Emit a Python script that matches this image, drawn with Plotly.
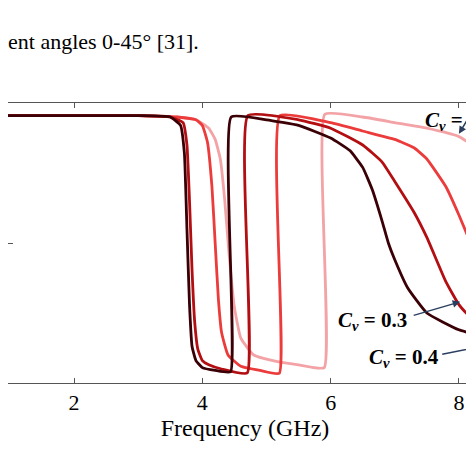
import plotly.graph_objects as go

cv0_x = [0.9, 3.0, 3.6, 3.9, 4.1, 4.2, 4.28, 4.35, 4.42, 4.5, 4.6, 4.8, 5.1, 5.5, 5.9, 5.91, 6.5, 7.0, 7.5, 8.0, 8.4]
cv0_y = [0.955, 0.955, 0.95, 0.94, 0.91, 0.87, 0.8, 0.65, 0.45, 0.27, 0.16, 0.1, 0.08, 0.065, 0.055, 0.96, 0.95, 0.93, 0.91, 0.88, 0.82]
cv2_x = [0.9, 3.0, 3.6, 3.9, 4.0, 4.08, 4.15, 4.2, 4.25, 4.3, 4.4, 4.6, 4.9, 5.2, 5.21, 6.0, 6.5, 7.0, 7.3, 7.5, 7.8, 8.0, 8.2, 8.4]
cv2_y = [0.955, 0.955, 0.95, 0.94, 0.92, 0.86, 0.7, 0.5, 0.3, 0.18, 0.1, 0.06, 0.045, 0.035, 0.955, 0.93, 0.9, 0.87, 0.84, 0.8, 0.7, 0.6, 0.49, 0.37]
cv3_x = [0.9, 3.0, 3.5, 3.7, 3.76, 3.8, 3.84, 3.88, 3.93, 4.0, 4.1, 4.3, 4.7, 4.71, 5.5, 6.0, 6.5, 6.8, 7.0, 7.3, 7.5, 7.8, 8.0, 8.2, 8.4]
cv3_y = [0.955, 0.955, 0.95, 0.93, 0.85, 0.65, 0.4, 0.22, 0.12, 0.08, 0.065, 0.05, 0.036, 0.955, 0.94, 0.91, 0.85, 0.79, 0.72, 0.61, 0.52, 0.36, 0.28, 0.23, 0.19]
cv4_x = [0.9, 3.0, 3.5, 3.66, 3.72, 3.76, 3.8, 3.84, 3.9, 4.0, 4.2, 4.44, 4.45, 5.0, 5.5, 6.0, 6.3, 6.5, 6.65, 6.8, 6.9, 7.0, 7.2, 7.5, 8.0, 8.4]
cv4_y = [0.955, 0.955, 0.95, 0.92, 0.82, 0.55, 0.28, 0.13, 0.08, 0.055, 0.045, 0.04, 0.95, 0.94, 0.92, 0.875, 0.83, 0.77, 0.69, 0.58, 0.5, 0.44, 0.34, 0.25, 0.19, 0.165]

series = [("Cv=0", cv0_x, cv0_y, "#f3a3a6"),
          ("Cv=0.2", cv2_x, cv2_y, "#ec3b3b"),
          ("Cv=0.3", cv3_x, cv3_y, "#b30e12"),
          ("Cv=0.4", cv4_x, cv4_y, "#3a0006")]

fig = go.Figure()
for name, xs, ys, c in series:
    fig.add_trace(go.Scatter(x=xs, y=ys, mode="lines", name=name,
                             line=dict(color=c, width=2.8, shape="spline", smoothing=0.4)))

serif = "Liberation Serif, DejaVu Serif, serif"
ax = dict(showline=True, linecolor="#555", linewidth=1, mirror="ticks",
          ticks="inside", ticklen=5, tickcolor="#555", showgrid=False,
          zeroline=False, automargin=False)
fig.update_layout(
    width=474, height=474, showlegend=False,
    paper_bgcolor="white", plot_bgcolor="white",
    margin=dict(l=0, r=0, t=95, b=99, autoexpand=False),
    font=dict(family=serif, color="black", size=22),
    xaxis=dict(range=[0.97, 8.36], tickvals=[2, 4, 6, 8],
               title=dict(text="Frequency (GHz)", font=dict(size=24), standoff=4), **ax),
    yaxis=dict(range=[0, 1], tickvals=[0.5], showticklabels=False, **ax),
)
lab = "<b><i>C</i><sub><i>v</i></sub> = {}</b>"
fig.add_annotation(x=6.65, y=0.22, text=lab.format("0.3"), showarrow=False,
                   font=dict(size=21, family=serif))
fig.add_annotation(x=8.02, y=0.29, ax=-48, ay=14, text="", showarrow=True,
                   arrowhead=2, arrowwidth=1.5)
fig.add_annotation(x=7.15, y=0.09, text=lab.format("0.4"), showarrow=False,
                   font=dict(size=21, family=serif))
fig.add_annotation(x=8.34, y=0.13, ax=-40, ay=8, text="", showarrow=True,
                   arrowhead=2, arrowwidth=1.5)
fig.add_annotation(x=8.0, y=0.89, ax=12, ay=-20, text="", showarrow=True,
                   arrowhead=2, arrowwidth=1.5)
fig.add_annotation(xref="paper", yref="paper", x=0.875, y=0.99, text=lab.format("0.1"),
                   showarrow=False, xanchor="left", font=dict(size=21, family=serif))
fig.add_annotation(xref="paper", yref="paper", x=-0.005, y=1.27, xanchor="left",
                   text="ent angles 0-45° [31].", showarrow=False, font=dict(size=22, family=serif))
fig.write_html("out.html")
